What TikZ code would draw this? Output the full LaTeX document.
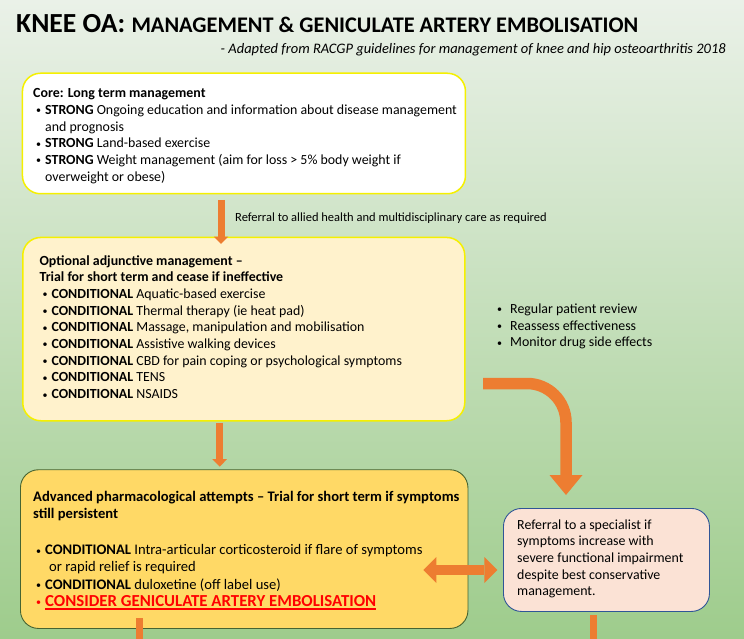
\documentclass[tikz,border=0pt]{standalone}
\usepackage{fontspec}
\setmainfont{Carlito}
\usetikzlibrary{arrows.meta}
\definecolor{bgtop}{RGB}{234,241,232}
\definecolor{bgbot}{RGB}{158,204,140}
\definecolor{orng}{RGB}{237,125,49}
\definecolor{ylw}{RGB}{245,240,0}
\definecolor{lightylw}{RGB}{255,242,204}
\definecolor{goldfill}{RGB}{255,217,102}
\definecolor{goldedge}{RGB}{70,100,50}
\definecolor{peach}{RGB}{251,226,213}
\definecolor{blueedge}{RGB}{47,85,151}
\definecolor{redc}{RGB}{255,0,0}
\newcommand{\bulglyph}{\raisebox{0.6pt}{\fontsize{10}{10}\selectfont\mdseries•}}
\newcommand{\bul}{\makebox[9.5pt][l]{\hspace*{0.5pt}\bulglyph}}
\newsavebox{\ulbox}
\newcommand{\redul}[1]{\sbox{\ulbox}{#1}\rlap{\raisebox{-3.6pt}{\rule{\wd\ulbox}{1.9pt}}}\usebox{\ulbox}}
\tikzset{
  boxbase/.style={rectangle, rounded corners=18pt, anchor=north west, inner sep=0pt},
  corebox/.style={boxbase, draw=ylw, line width=1.5pt, fill=white},
  adjbox/.style={boxbase, draw=ylw, line width=1.5pt, fill=lightylw},
  advbox/.style={boxbase, draw=goldedge, line width=0.9pt, fill=goldfill},
  specbox/.style={boxbase, draw=blueedge, line width=0.9pt, fill=peach},
  bodytext/.style={anchor=west, align=left, inner sep=0pt, font={\fontsize{13.9}{16.7}\selectfont}},
  thinarrow/.style={draw=orng, line width=7pt, -{Triangle[length=7.5pt,width=14.5pt,line width=0pt]}},
  dblarrow/.style={draw=orng, line width=10pt, {Triangle[length=13pt,width=26pt,line width=0pt]}-{Triangle[length=13pt,width=26pt,line width=0pt]}},
  bigarrow/.style={draw=orng, line width=11.5pt, rounded corners=39pt, -{Triangle[length=20pt,width=33pt,line width=0pt]}},
  stubline/.style={draw=orng, line width=7pt},
}
\begin{document}
\begin{tikzpicture}[x=1pt,y=-1pt]
\useasboundingbox (0,0) rectangle (744,639);
\begin{scope}
\clip (0,0) rectangle (744,639);
\shade[top color=bgtop, bottom color=bgbot] (0,0) rectangle (744,639);

% title
\node[anchor=base west, inner sep=0pt, font=\bfseries] (title) at (16,33)
  {{\fontsize{27.6}{30}\selectfont KNEE OA: }{\fontsize{22.3}{24}\selectfont MANAGEMENT \& GENICULATE ARTERY EMBOLISATION}};
\node[anchor=base east, inner sep=0pt, font={\fontsize{14.5}{16}\selectfont\itshape}] (subtitle) at (726,54)
  {- Adapted from RACGP guidelines for management of knee and hip osteoarthritis 2018};

% boxes
\node[corebox, minimum width=443pt, minimum height=120.5pt] (core) at (21.7,72.5) {};
\node[adjbox, minimum width=442pt, minimum height=183.3pt] (adj) at (22,236.7) {};
\node[advbox, minimum width=447.5pt, minimum height=158.7pt] (adv) at (20,469.3) {};
\node[specbox, minimum width=206pt, minimum height=103pt] (spec) at (503,508) {};

% arrows
\coordinate (a1s) at (221,200);
\coordinate (a1e) at (221,244);
\draw[thinarrow] (a1s) -- (a1e);
\coordinate (a2s) at (219.7,422.7);
\coordinate (a2e) at (219.7,466.7);
\draw[thinarrow] (a2s) -- (a2e);
\coordinate (cs) at (483,383.5);
\coordinate (ce) at (566,495);
\draw[bigarrow] (cs) -| (ce);
\coordinate (ds) at (423.3,570);
\coordinate (de) at (497.3,570);
\draw[dblarrow] (ds) -- (de);
\coordinate (b1s) at (139,618);
\coordinate (b1e) at (139,650);
\draw[stubline] (b1s) -- (b1e);
\coordinate (b2s) at (593,615);
\coordinate (b2e) at (593,650);
\draw[stubline] (b2s) -- (b2e);

% texts
\node[anchor=west, inner sep=0pt, font={\fontsize{12.5}{14}\selectfont}] (reflabel) at (235,218.3)
  {Referral to allied health and multidisciplinary care as required};

\node[bodytext] (coretxt) at (33,136) {%
\textbf{Core: Long term management}\\
\hspace*{2.5pt}\bul\textbf{STRONG} Ongoing education and information about disease management\\
\hspace*{12pt}and prognosis\\
\hspace*{2.5pt}\bul\textbf{STRONG} Land-based exercise\\
\hspace*{2.5pt}\bul\textbf{STRONG} Weight management (aim for loss > 5\% body weight if\\
\hspace*{12pt}overweight or obese)};

\node[bodytext] (adjtxt) at (39.4,327) {%
\textbf{Optional adjunctive management –}\\
\textbf{Trial for short term and cease if ineffective}\\
\hspace*{2.4pt}\bul\textbf{CONDITIONAL} Aquatic-based exercise\\
\hspace*{2.4pt}\bul\textbf{CONDITIONAL} Thermal therapy (ie heat pad)\\
\hspace*{2.4pt}\bul\textbf{CONDITIONAL} Massage, manipulation and mobilisation\\
\hspace*{2.4pt}\bul\textbf{CONDITIONAL} Assistive walking devices\\
\hspace*{2.4pt}\bul\textbf{CONDITIONAL} CBD for pain coping or psychological symptoms\\
\hspace*{2.4pt}\bul\textbf{CONDITIONAL} TENS\\
\hspace*{2.4pt}\bul\textbf{CONDITIONAL} NSAIDS};

\node[bodytext] (reviewtxt) at (497,326.5) {%
\makebox[13pt][l]{\bulglyph}Regular patient review\\
\makebox[13pt][l]{\bulglyph}Reassess effectiveness\\
\makebox[13pt][l]{\bulglyph}Monitor drug side effects};

\node[bodytext, font={\fontsize{14.6}{17.3}\selectfont}] (advtxt) at (33,550.5) {%
\textbf{Advanced pharmacological attempts – Trial for short term if symptoms}\\
\textbf{still persistent}\\[19pt]
\hspace*{2.5pt}\bul\textbf{CONDITIONAL} Intra-articular corticosteroid if flare of symptoms\\
\hspace*{16pt}or rapid relief is required\\
\hspace*{2.5pt}\bul\textbf{CONDITIONAL} duloxetine (off label use)\\
{\color{redc}\hspace*{2.5pt}\bul{\fontsize{16.8}{17}\selectfont\bfseries\redul{CONSIDER GENICULATE ARTERY EMBOLISATION}}}};

\node[bodytext] (spectxt) at (517,558.8) {%
Referral to a specialist if\\
symptoms increase with\\
severe functional impairment\\
despite best conservative\\
management.};
\end{scope}
\end{tikzpicture}
\end{document}
